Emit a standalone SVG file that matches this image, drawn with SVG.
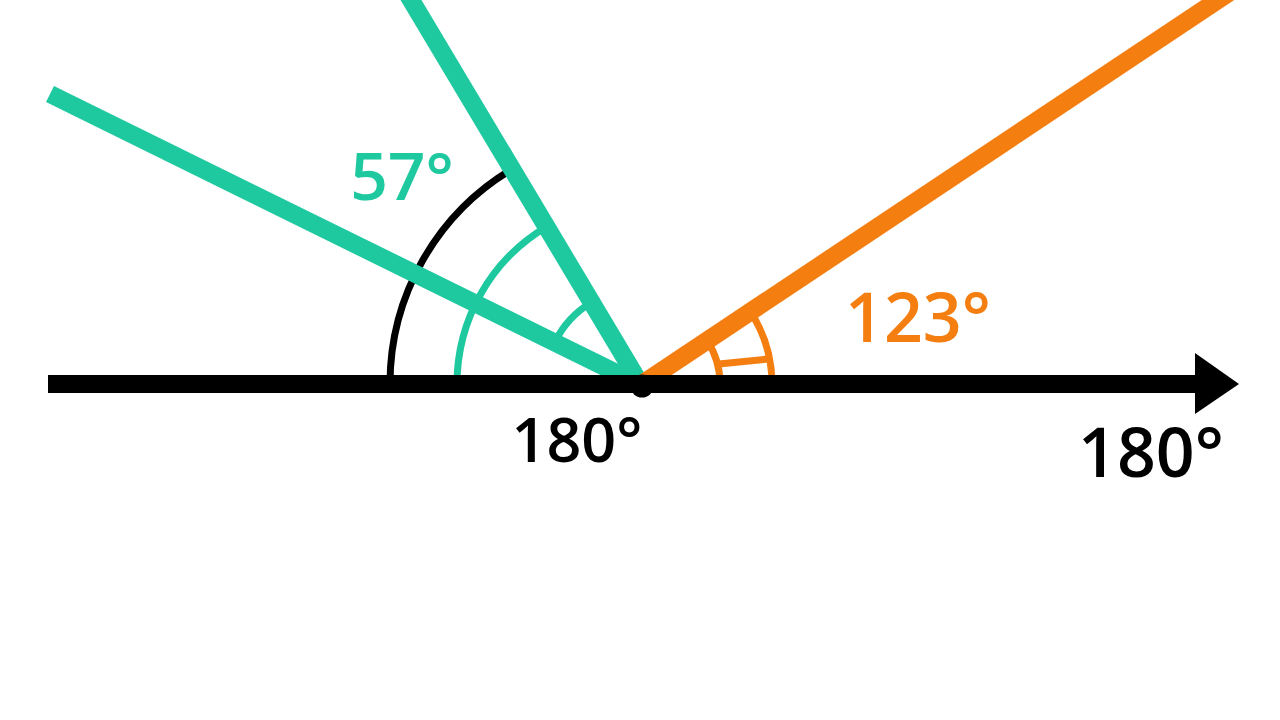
<svg xmlns="http://www.w3.org/2000/svg" width="1280" height="720" viewBox="0 0 1280 720">
  <style>
    .teal { stroke: #1FC9A0; fill: none; }
    .orange { stroke: #F57E10; fill: none; }
    .blk { stroke: #000; fill: none; }
    .ray { stroke-width: 18; stroke-linecap: butt; }
    .arc { stroke-width: 7; }
    .lbl { font-family: "Open Sans", "Liberation Sans", sans-serif; font-weight: 600; text-anchor: middle; }
  </style>
  <rect width="1280" height="720" fill="#fff"/>
  <g id="arcs">
    <path id="arc-black" class="blk arc" d="M390,384 A250,250 0 0 1 511.9,169.3"/>
    <path id="arc-teal-big" class="teal arc" d="M457,384 A183,183 0 0 1 546.2,226.9"/>
    <path id="arc-teal-small" class="teal arc" d="M554.8,342.1 A95,95 0 0 1 591.3,302.4"/>
    <path id="arc-orange-inner" class="orange arc" d="M720,384 A80,80 0 0 0 706.6,339.7"/>
    <path id="arc-orange-outer" class="orange arc" d="M772,384 A132,132 0 0 0 749.9,311"/>
    <line id="orange-tick" class="orange arc" x1="719" y1="364" x2="768" y2="359"/>
  </g>
  <g id="connectors">
    <line id="ray-teal-shallow" class="teal ray" x1="50" y1="94" x2="641" y2="385"/>
    <line id="ray-teal-steep" class="teal ray" x1="405" y1="-10" x2="641" y2="385"/>
    <line id="ray-orange" class="orange ray" x1="642" y1="384" x2="1248" y2="-20" stroke-width="17"/>
    <line id="baseline" class="blk" x1="48" y1="384" x2="1200" y2="384" stroke-width="18"/>
    <polygon id="arrowhead" points="1195,353 1239,384 1195,414" fill="#000"/>
  </g>
  <g id="vertex">
    <circle cx="642" cy="386" r="11.5" fill="#000"/>
  </g>
  <g id="labels">
    <text id="label-57" class="lbl" x="402" y="200" font-size="66" fill="#1FC9A0">57°</text>
    <text id="label-123" class="lbl" x="918" y="342" font-size="68" fill="#F57E10">123°</text>
    <text id="label-180-left" class="lbl" x="577" y="462" font-size="61" fill="#000">180°</text>
    <text id="label-180-right" class="lbl" x="1151" y="477" font-size="68" fill="#000">180°</text>
  </g>
</svg>
